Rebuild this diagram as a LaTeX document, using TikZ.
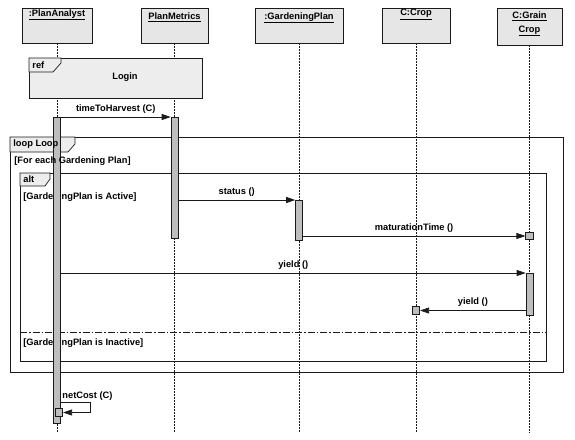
\documentclass[tikz,border=0pt]{standalone}
\usepackage{fontspec}
\setmainfont{Liberation Sans}
\usetikzlibrary{arrows.meta, positioning, calc}
\definecolor{cline}{HTML}{1A1A1A}
\definecolor{chead}{HTML}{E6E6E6}
\definecolor{cbar}{HTML}{BEBEBE}
\definecolor{cref}{HTML}{EDEDED}
\tikzset{
  every picture/.style={font=\fontsize{9.3}{11}\selectfont\bfseries, line width=0.8pt},
  head/.style={draw=cline, fill=chead, minimum height=35pt, inner sep=0pt},
  headtext/.style={align=center, inner sep=1.5pt, anchor=north},
  lifeline/.style={draw=cline, line width=0.7pt, dash pattern=on 1.6pt off 1.4pt},
  actbar/.style={draw=cline, fill=cbar, line width=0.6pt, minimum width=7pt, inner sep=0pt, anchor=north},
  endbox/.style={draw=cline, fill=cbar, line width=0.6pt, minimum size=7.5pt, inner sep=0pt},
  msg/.style={-{Triangle[length=9pt, width=6pt]}, draw=cline, line width=0.7pt},
  frame/.style={draw=cline, line width=1pt},
  tab/.style={draw=cline, fill=cref, line width=0.7pt},
  guard/.style={anchor=west, inner sep=0pt},
  sepline/.style={draw=cline, line width=0.7pt, dash pattern=on 7pt off 2pt on 1.5pt off 2pt},
}

\begin{document}
\begin{tikzpicture}[x=1pt, y=-1pt]
  \useasboundingbox (0,0) rectangle (575,439);
  % lifeline heads
  \node[head, minimum width=70pt] (pa) at (57,25.5) {};
  \node[head, minimum width=67pt] (pm) at (174.5,25.5) {};
  \node[head, minimum width=88pt] (gp) at (299,25.5) {};
  \node[head, minimum width=68pt] (crop) at (416,25.5) {};
  \node[head, minimum width=65pt, minimum height=37pt] (grain) at (529.5,26.5) {};
  \node[headtext] (pa-t) at (pa.north) {\underline{:PlanAnalyst}};
  \node[headtext, yshift=-3pt] (pm-t) at (pm.north) {\underline{PlanMetrics}};
  \node[headtext, yshift=-3pt] (gp-t) at (gp.north) {\underline{:GardeningPlan}};
  \node[headtext] (crop-t) at (crop.north) {\underline{C:Crop}};
  \node[headtext, yshift=-2pt] (grain-t) at (grain.north) {\underline{C:Grain}\\[3pt]\underline{Crop}};
  \coordinate (bot) at (0,433);
  \foreach \h in {pa,pm,gp,crop,grain}
    \draw[lifeline] (\h.south) -- (\h.south |- bot);
  % ref
  \draw[tab] (29,58) rectangle (202,98);
  \draw[tab] (29,58) -- (61,58) -- (61,63) -- (53,72) -- (29,72) -- cycle;
  \node[guard] (ref-t) at (32,65) {ref};
  \node (login) at (125,77) {Login};
  % combined fragments
  \draw[frame] (10,137) rectangle (563,372);
  \draw[tab] (10,137) -- (75,137) -- (75,144) -- (68,152) -- (10,152) -- cycle;
  \draw[frame] (20,173) rectangle (546,361);
  \draw[tab] (20,173) -- (50,173) -- (50,179) -- (45,186) -- (20,186) -- cycle;
  \node[guard] (alt-t) at (23,179.5) {alt};
  \node[guard] (alt-g1) at (23,197) {[GardeningPlan is Active]};
  \draw[sepline] (20,332) -- (546,332);
  \node[guard] (alt-g2) at (23,343) {[GardeningPlan is Inactive]};
  % activations
  \node[actbar, minimum height=306pt] (pa-act) at (pa.south |- 0,117) {};
  \node[actbar, minimum height=121pt] (pm-act) at (pm.south |- 0,117) {};
  \node[actbar, minimum height=40pt] (gp-act) at (gp.south |- 0,200) {};
  \node[endbox] (mt-end) at (grain.south |- 0,236) {};
  \node[actbar, minimum height=42pt] (grain-act) at (grain.south |- 0,273) {};
  \node[endbox] (crop-end) at (crop.south |- 0,310.5) {};
  \node[endbox] (nc-end) at ([xshift=2pt]pa.south |- 0,412.5) {};
  \node[guard] (loop-t) at (13,144.5) {loop Loop};
  \node[guard] (loop-g) at (14,161) {[For each Gardening Plan]};
  % messages
  \draw[msg] (pa-act.north east) -- (pm-act.north west) node[midway, above] (m1) {timeToHarvest (C)};
  \draw[msg] (pm-act.east |- gp-act.north) -- (gp-act.north west) node[midway, above] (m2) {status ()};
  \draw[msg] (gp-act.east |- mt-end.west) -- (mt-end.west) node[midway, above] (m3) {maturationTime ()};
  \draw[msg] (pa-act.east |- grain-act.north) -- (grain-act.north west) node[midway, above] (m4) {yield ()};
  \draw[msg] (grain-act.west |- crop-end.east) -- (crop-end.east) node[midway, above] (m5) {yield ()};
  \draw[msg] (pa-act.east |- 0,402) -- ++(30,0) -- ++(0,10.5) -- (nc-end.east);
  \node[anchor=base west, inner sep=0pt] (m6) at (62,398.5) {netCost (C)};
\end{tikzpicture}
\end{document}
